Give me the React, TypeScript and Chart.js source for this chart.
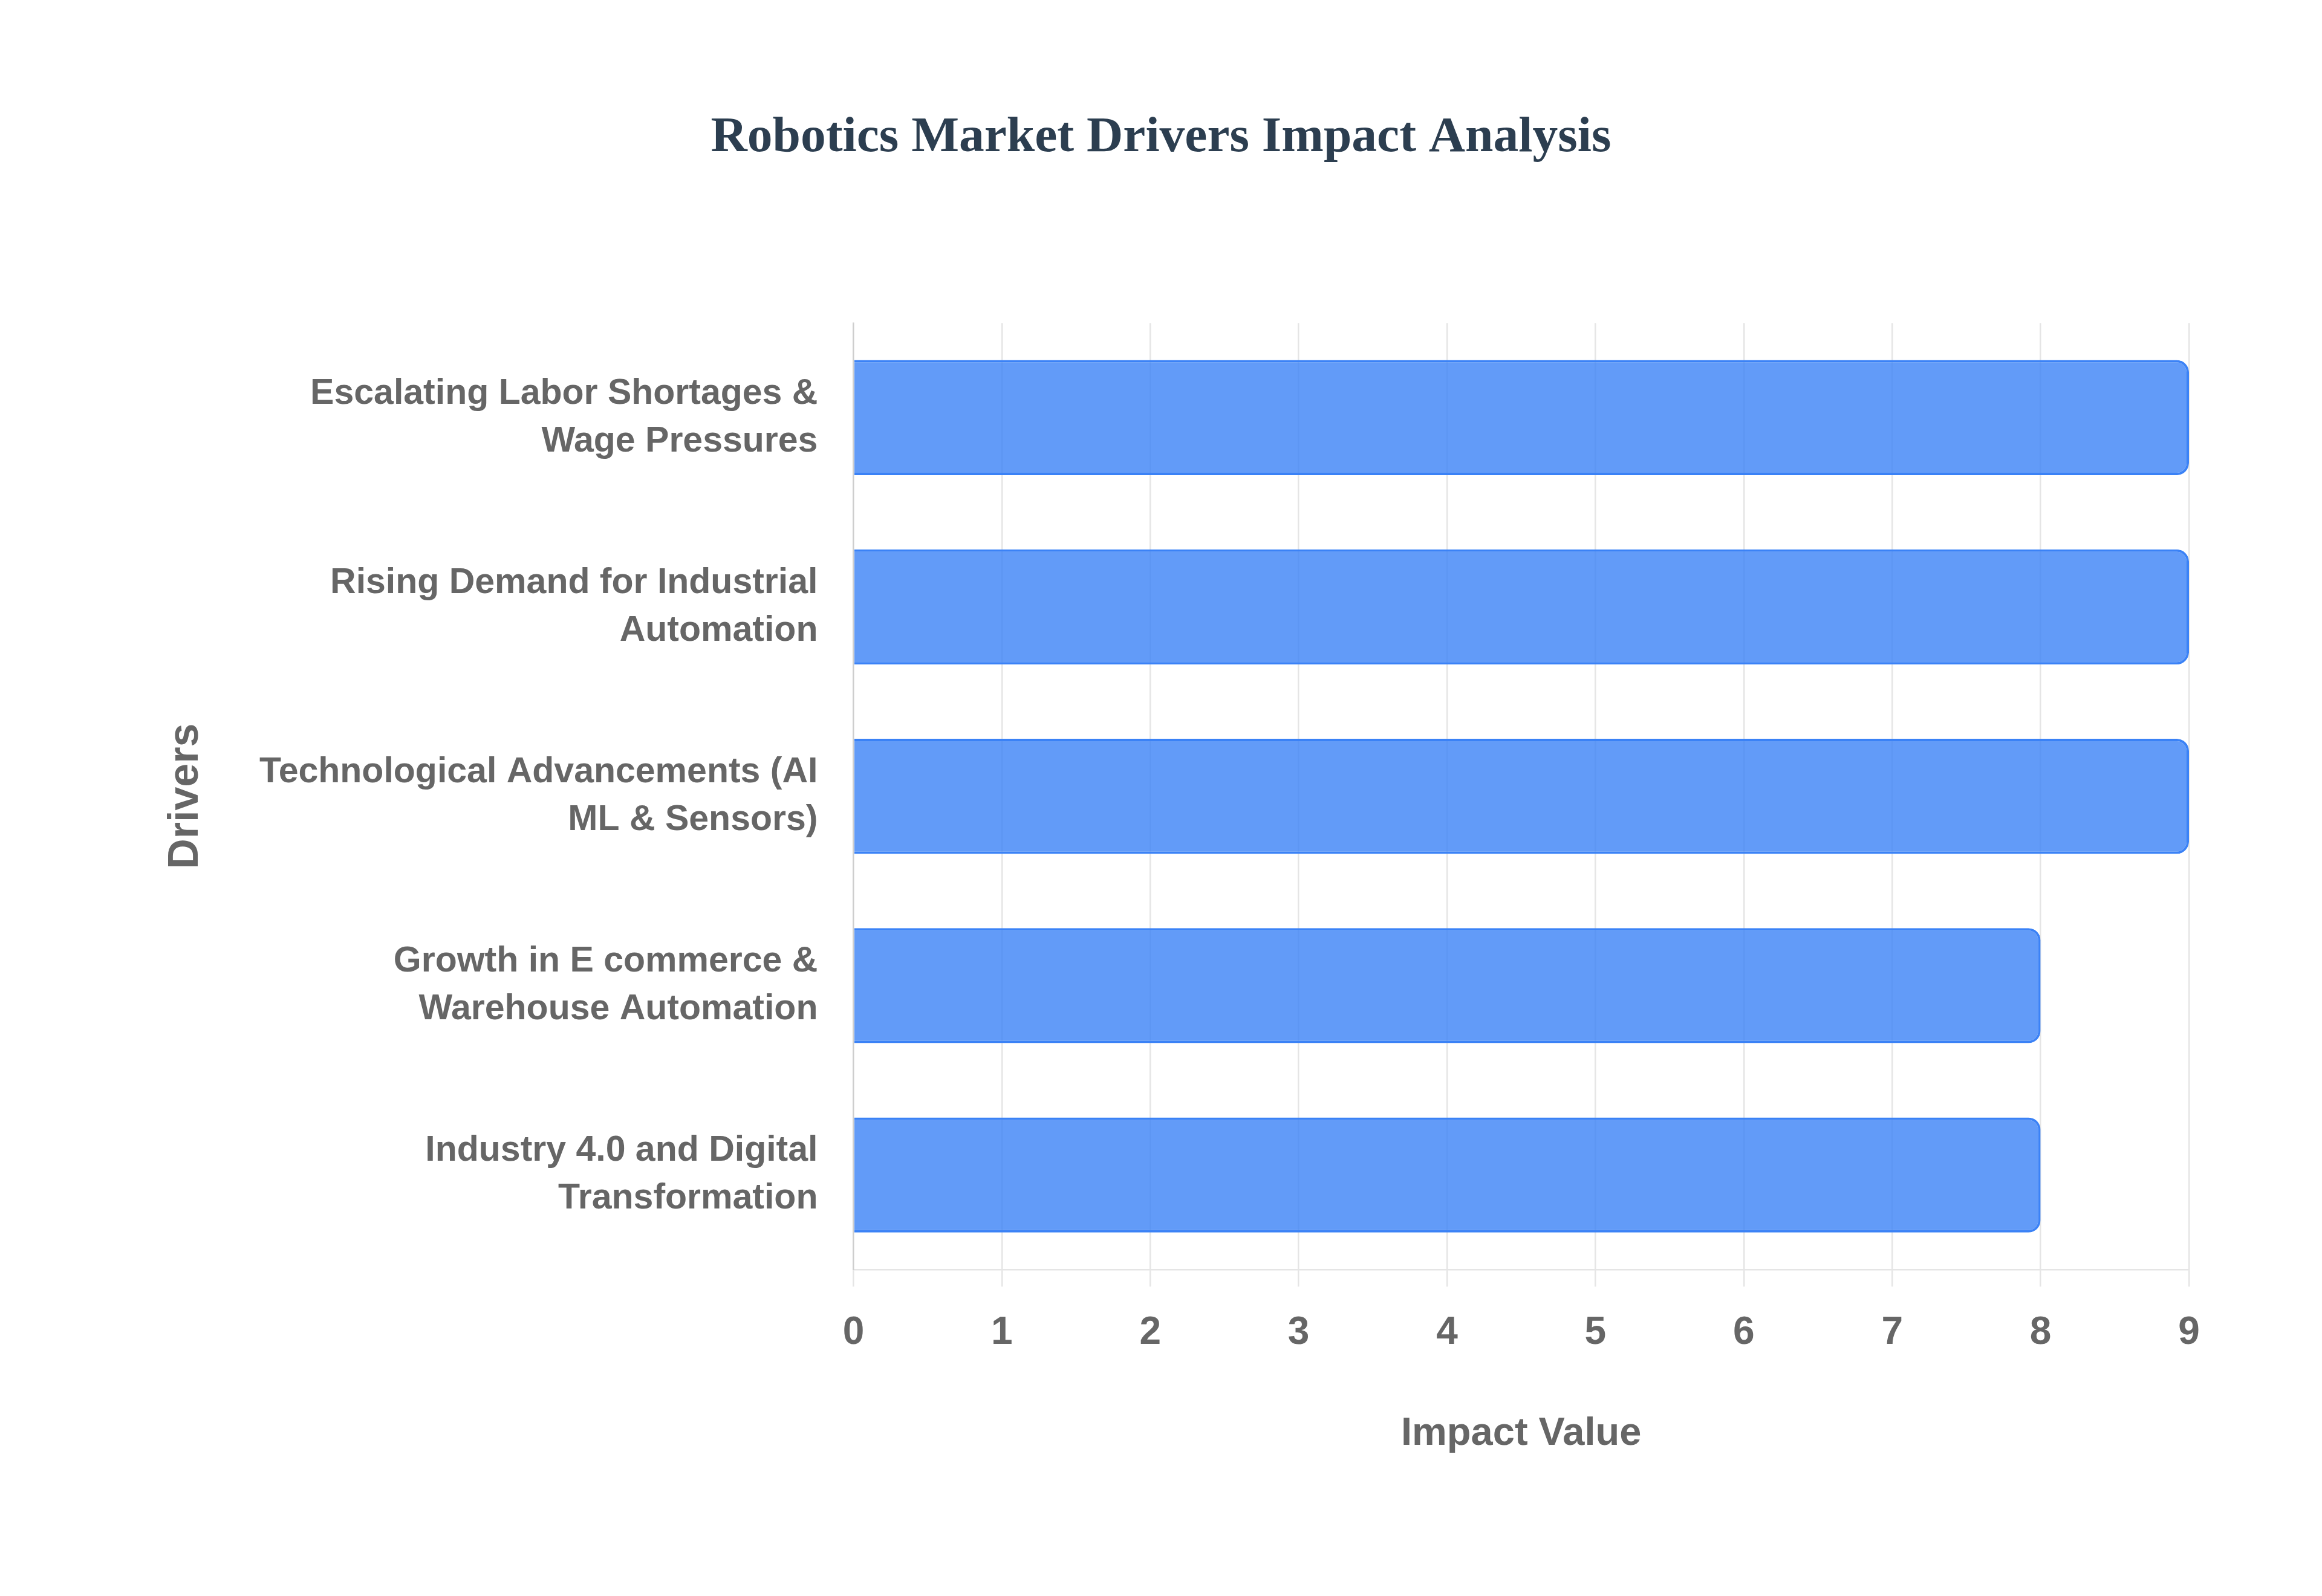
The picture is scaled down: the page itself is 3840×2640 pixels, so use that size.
import React, { useEffect, useRef } from "react";
import { Chart, registerables } from "chart.js";

Chart.register(...registerables);

// data
const driverLabels: string[][] = [
  ["Escalating Labor Shortages &", "Wage Pressures"],
  ["Rising Demand for Industrial", "Automation"],
  ["Technological Advancements (AI", "ML & Sensors)"],
  ["Growth in E commerce &", "Warehouse Automation"],
  ["Industry 4.0 and Digital", "Transformation"],
];
const impactValues = [9, 9, 9, 8, 8];
const impactTicks = [0, 1, 2, 3, 4, 5, 6, 7, 8, 9];

const SANS = "'Liberation Sans', Arial, Helvetica, sans-serif";
const SERIF = "'Liberation Serif', 'Times New Roman', serif";
const GREY = "#666666";
const GRID = "rgba(0, 0, 0, 0.1)";

const W = 3840;
const H = 2640;

export default function App() {
  const canvasRef = useRef<HTMLCanvasElement>(null);

  useEffect(() => {
    document.body.style.margin = "0";
    document.body.style.overflow = "hidden";
    const ctx = canvasRef.current?.getContext("2d");
    if (!ctx) return;

    const chart = new Chart(ctx, {
      type: "bar",
      data: {
        labels: driverLabels,
        datasets: [
          {
            label: "Impact Value",
            data: impactValues,
            backgroundColor: "rgba(59, 130, 246, 0.8)",
            borderColor: "#3b82f6",
            borderWidth: 4,
            borderRadius: 20,
            categoryPercentage: 0.8,
            barPercentage: 0.76,
          },
        ],
      },
      options: {
        indexAxis: "y",
        responsive: false,
        animation: false,
        devicePixelRatio: 1,
        layout: {
          padding: { left: 220, right: 220, top: 0, bottom: 0 },
        },
        plugins: {
          legend: { display: false },
          tooltip: { enabled: false },
          title: {
            display: true,
            text: "Robotics Market Drivers Impact Analysis",
            color: "#2c3e50",
            font: { family: SERIF, size: 83.5, weight: "bold" },
            padding: { top: 178, bottom: 256 },
          },
        },
        scales: {
          x: {
            type: "linear",
            min: 0,
            max: 9,
            afterBuildTicks: (scale) => {
              scale.ticks = impactTicks.map((value) => ({ value }));
            },
            grid: {
              color: GRID,
              lineWidth: 2.5,
              tickLength: 28,
            },
            border: { color: GRID, width: 2.5 },
            ticks: {
              color: GREY,
              padding: 39,
              font: { family: SANS, size: 64, weight: "bold" },
            },
            title: {
              display: true,
              text: "Impact Value",
              color: GREY,
              font: { family: SANS, size: 65, weight: "bold" },
              padding: { top: 50, bottom: 229 },
            },
          },
          y: {
            grid: { display: false, drawTicks: false },
            border: { color: GRID, width: 2.5 },
            ticks: {
              color: GREY,
              padding: 59,
              font: { family: SANS, size: 59, weight: "bold", lineHeight: 1.34 },
            },
            title: {
              display: true,
              text: "Drivers",
              color: GREY,
              font: { family: SANS, size: 70, weight: "bold" },
              padding: { top: 46, bottom: 20 },
            },
          },
        },
      },
    });

    return () => {
      chart.destroy();
    };
  }, []);

  return (
    <div style={{ width: W, height: H, background: "#ffffff" }}>
      <canvas ref={canvasRef} width={W} height={H} style={{ display: "block" }} />
    </div>
  );
}
